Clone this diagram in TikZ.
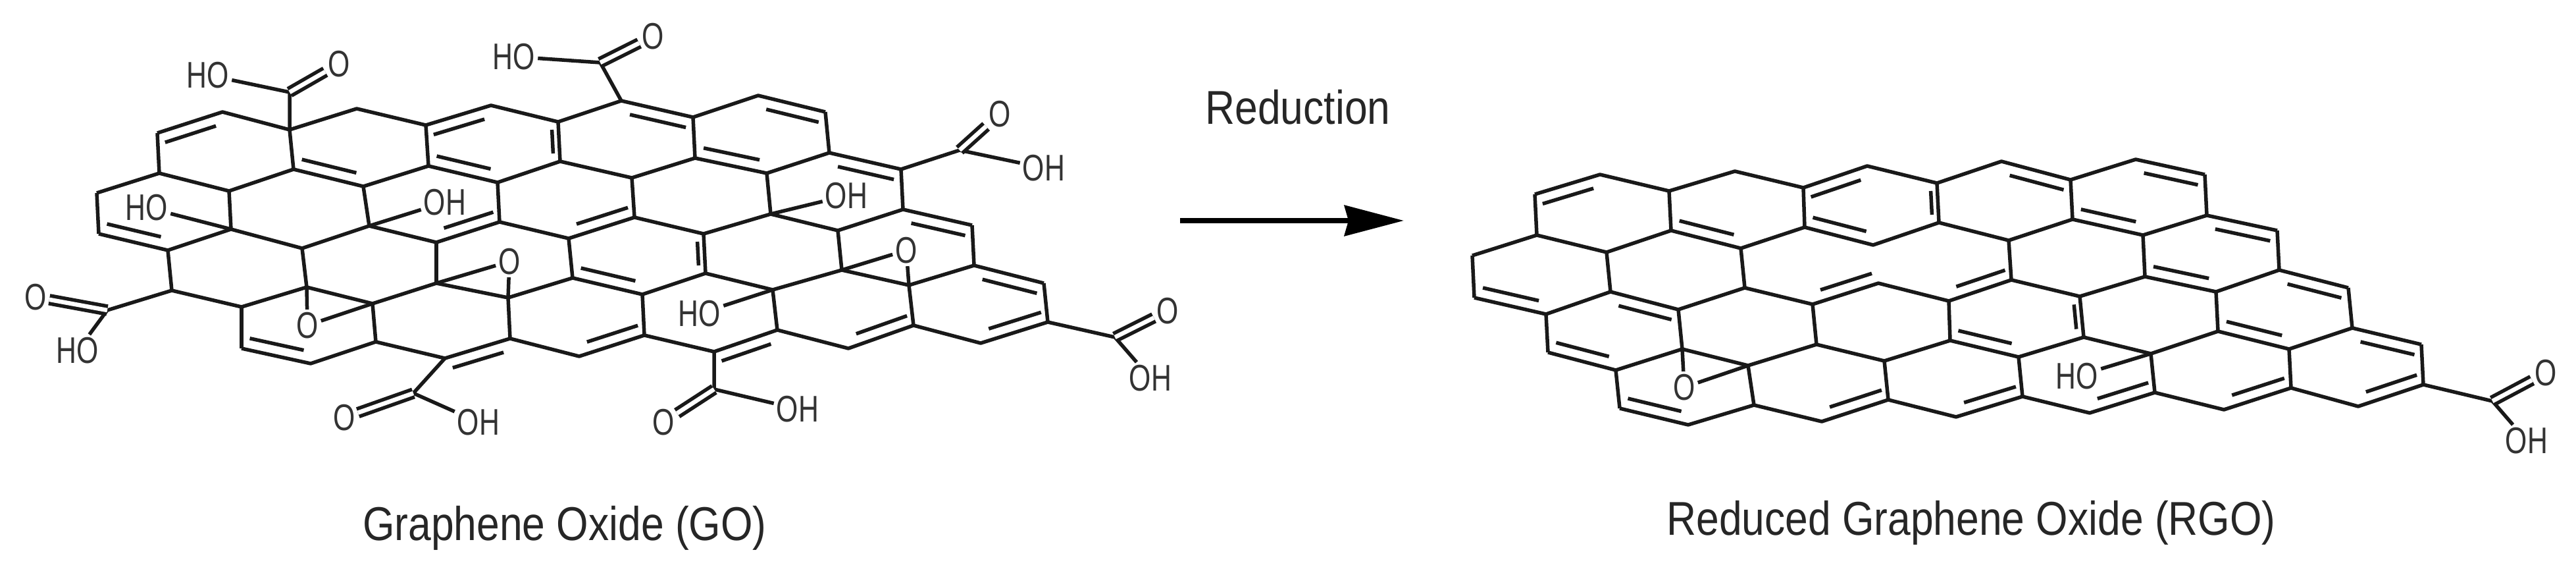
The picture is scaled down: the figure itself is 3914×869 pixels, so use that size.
\documentclass[tikz,border=0pt]{standalone}
\usepackage{fontspec}
\usetikzlibrary{calc,arrows.meta}
\newfontfamily\atomfont[FakeStretch=.76]{Liberation Sans}
\newfontfamily\capfont[FakeStretch=.865]{Liberation Sans}
\tikzset{
    bond/.style={line width=.055cm,line join=round,black!90},
    oxo/.style={bond,double,double distance=.065cm},
    atom/.style={font=\atomfont\fontsize{16}{16}\selectfont,inner sep=.035cm,text=black!80},
    caption/.style={font=\capfont\fontsize{20.5}{20.5}\selectfont,inner sep=0pt,anchor=base,text=black!85},
}
\newcommand{\innerbond}[3]{\draw[bond] ($(#1)!.12!(#2)+(0,#3)$) -- ($(#1)!.9!(#2)+(0,#3)$);}
\newcommand{\sidebond}[2]{\draw[bond] ($(#1)!.2!(#2)+(-10,0)$) -- ($(#1)!.8!(#2)+(-10,0)$);}
\begin{document}
\begin{tikzpicture}[x=.01cm,y=-.01cm]
    \useasboundingbox (0,0) rectangle (3914,869);

    % titik-titik GO
    \foreach \i/\x/\y in {1/239/202,2/338/170,3/440/197,4/542/165,5/647/190,6/746/160,7/848/185,8/944/153,9/1053/178,10/1152/145,11/1254/170}
        \coordinate (ga\i) at (\x,\y);
    \foreach \i/\x/\y in {1/147/293,2/242/263,3/348/290,4/446/257,5/552/283,6/651/252,7/756/277,8/851/245,9/960/270,10/1056/240,11/1165/263,12/1260/232,13/1369/257}
        \coordinate (gb\i) at (\x,\y);
    \foreach \i/\x/\y in {1/150/355,2/255/380,3/351/348,4/459/377,5/561/343,6/663/368,7/759/337,8/864/362,9/964/330,10/1069/355,11/1171/325,12/1273/350,13/1372/318,14/1477/342}
        \coordinate (gc\i) at (\x,\y);
    \foreach \i/\x/\y in {1/261/441,2/367/466,3/466/436,4/566/461,5/663/430,6/772/452,7/870/422,8/976/447,9/1072/415,10/1174/440,11/1279/410,12/1381/433,13/1480/403,14/1586/430}
        \coordinate (gd\i) at (\x,\y);
    \foreach \i/\x/\y in {1/367/529,2/472/552,3/571/519,4/676/544,5/775/514,6/880/541,7/979/509,8/1085/534,9/1181/501,10/1289/529,11/1388/494,12/1490/521,13/1592/489}
        \coordinate (ge\i) at (\x,\y);

    % kerangka GO
    \draw[bond] (ga1) foreach \i in {2,...,11} {-- (ga\i)};
    \draw[bond] (gb1) foreach \i in {2,...,13} {-- (gb\i)};
    \draw[bond] (gc1) foreach \i in {2,...,14} {-- (gc\i)};
    \draw[bond] (gd1) foreach \i in {2,...,14} {-- (gd\i)};
    \draw[bond] (ge1) foreach \i in {2,...,13} {-- (ge\i)};
    \foreach \a/\b in {ga1/gb2,ga3/gb4,ga5/gb6,ga7/gb8,ga9/gb10,ga11/gb12,
        gb1/gc1,gb3/gc3,gb5/gc5,gb7/gc7,gb9/gc9,gb11/gc11,gb13/gc13,
        gc2/gd1,gc4/gd3,gc6/gd5,gc8/gd7,gc10/gd9,gc12/gd11,gc14/gd13,
        gd2/ge1,gd4/ge3,gd6/ge5,gd8/ge7,gd10/ge9,gd12/ge11,gd14/ge13}
        \draw[bond] (\a) -- (\b);
    \foreach \a/\b/\s in {ga1/ga2/18,ga5/ga6/18,ga8/ga9/18,ga10/ga11/18,
        gb4/gb5/-18,gb6/gb7/-18,gb10/gb11/-18,gb12/gb13/18,
        gc1/gc2/-18,gc6/gc7/-18,gc8/gc9/-18,gc13/gc14/18,
        gd7/gd8/-18,gd13/gd14/18,
        ge1/ge2/-18,ge4/ge5/18,ge6/ge7/-18,ge8/ge9/18,ge10/ge11/-18,ge12/ge13/-18}
        \innerbond{\a}{\b}{\s};
    \sidebond{ga7}{gb8}
    \sidebond{gc10}{gd9}

    % gugus COOH pada GO
    \coordinate (ca) at (440,140);
    \coordinate (cb) at (912,95);
    \coordinate (cc) at (1458,228);
    \coordinate (cd) at (163,471);
    \coordinate (ce) at (628,597);
    \coordinate (cf) at (1085,591);
    \coordinate (cg) at (1694,512);
    \foreach \c/\r/\ox/\oy/\hx/\hy/\t in {ca/ga3/515/97/316/114/HO,cb/ga8/992/55/781/86/HO,cc/gb13/1519/173/1586/255/OH,
        cd/gd1/54/451/118/532/HO,ce/ge4/523/634/727/641/OH,cf/ge8/1008/641/1212/621/OH,cg/ge13/1774/472/1748/574/OH}{
        \node[atom] (o\c) at (\ox,\oy) {O};
        \node[atom] (h\c) at (\hx,\hy) {\t};
        \draw[bond] (\r) -- (\c) -- (h\c);
        \draw[oxo] (\c) -- (o\c);
    }

    % gugus OH dan epoksi pada GO
    \foreach \r/\x/\y/\t/\n in {gc3/223/315/HO/hga,gc5/676/307/OH/hgb,gc11/1286/297/OH/hgc,gd10/1063/476/HO/hgd}{
        \node[atom] (\n) at (\x,\y) {\t};
        \draw[bond] (\r) -- (\n);
    }
    \foreach \a/\b/\x/\y/\n in {gd3/gd4/467/494/ega,gd5/gd6/774/397/egb,gd11/gd12/1377/380/egc}{
        \node[atom] (\n) at (\x,\y) {O};
        \draw[bond] (\a) -- (\n) -- (\b);
    }

    % tulisan dan panah
    \node[caption] (capgo) at (858,820) {Graphene Oxide (GO)};
    \node[caption] (reduksi) at (1972,188) {Reduction};
    \coordinate (panahA) at (1793,335);
    \coordinate (panahB) at (2133,335);
    \draw[line width=.08cm,-{Stealth[length=.9cm,width=.46cm,inset=.06cm]}] (panahA) -- (panahB);
    \node[caption] (caprgo) at (2995,812) {Reduced Graphene Oxide (RGO)};

    % titik-titik RGO
    \foreach \i/\x/\y in {1/2332/295,2/2431/265,3/2536/290,4/2636/260,5/2740/285,6/2837/252,7/2943/278,8/3041/245,9/3146/273,10/3245/242,11/3350/265}
        \coordinate (ra\i) at (\x,\y);
    \foreach \i/\x/\y in {1/2237/388,2/2335/357,3/2441/383,4/2539/350,5/2645/377,6/2742/345,7/2846/372,8/2946/338,9/3052/365,10/3149/333,11/3256/357,12/3353/327,13/3460/350}
        \coordinate (rb\i) at (\x,\y);
    \foreach \i/\x/\y in {1/2240/452,2/2349/477,3/2447/443,4/2550/470,5/2651/437,6/2754/462,7/2854/430,8/2961/457,9/3056/425,10/3160/450,11/3259/420,12/3367/443,13/3463/410,14/3568/437}
        \coordinate (rc\i) at (\x,\y);
    \foreach \i/\x/\y in {1/2352/535,2/2455/562,3/2556/530,4/2656/555,5/2760/523,6/2863/548,7/2963/517,8/3067/542,9/3166/512,10/3268/537,11/3370/503,12/3478/530,13/3574/498,14/3679/523}
        \coordinate (rd\i) at (\x,\y);
    \foreach \i/\x/\y in {1/2461/620,2/2565/645,3/2665/615,4/2768/640,5/2869/607,6/2972/633,7/3073/602,8/3175/627,9/3274/596,10/3379/622,11/3481/589,12/3583/617,13/3682/584,14/3787/609}
        \coordinate (re\i) at (\x,\y);

    % kerangka RGO
    \draw[bond] (ra1) foreach \i in {2,...,11} {-- (ra\i)};
    \draw[bond] (rb1) foreach \i in {2,...,13} {-- (rb\i)};
    \draw[bond] (rc1) foreach \i in {2,...,14} {-- (rc\i)};
    \draw[bond] (rd1) foreach \i in {2,...,14} {-- (rd\i)};
    \draw[bond] (re1) foreach \i in {2,...,14} {-- (re\i)};
    \foreach \a/\b in {ra1/rb2,ra3/rb4,ra5/rb6,ra7/rb8,ra9/rb10,ra11/rb12,
        rb1/rc1,rb3/rc3,rb5/rc5,rb9/rc9,rb11/rc11,rb13/rc13,
        rc2/rd1,rc4/rd3,rc6/rd5,rc8/rd7,rc10/rd9,rc12/rd11,rc14/rd13,
        rd2/re1,rd4/re3,rd6/re5,rd8/re7,rd10/re9,rd12/re11,rd14/re13}
        \draw[bond] (\a) -- (\b);
    \foreach \a/\b/\s in {ra1/ra2/18,ra5/ra6/18,ra8/ra9/18,ra10/ra11/18,
        rb4/rb5/-18,rb6/rb7/-18,rb10/rb11/-18,rb12/rb13/18,
        rc1/rc2/-18,rc3/rc4/18,rc6/rc7/-18,rc8/rc9/-18,rc11/rc12/-18,rc13/rc14/18,
        rd1/rd2/-18,rd7/rd8/-18,rd11/rd12/-18,rd13/rd14/18,
        re1/re2/-18,re4/re5/-18,re6/re7/-18,re8/re9/-18,re10/re11/-18,re12/re13/-18}
        \innerbond{\a}{\b}{\s};
    \sidebond{ra7}{rb8}
    \sidebond{rc10}{rd9}

    % gugus pada RGO
    \node[atom] (ora) at (3868,566) {O};
    \node[atom] (hra) at (3839,669) {OH};
    \draw[bond] (re14) -- (hra);
    \draw[oxo] (re14) -- (ora);
    \node[atom] (hrb) at (3156,571) {HO};
    \draw[bond] (rd10) -- (hrb);
    \node[atom] (era) at (2559,588) {O};
    \draw[bond] (rd3) -- (era) -- (rd4);
\end{tikzpicture}
\end{document}
